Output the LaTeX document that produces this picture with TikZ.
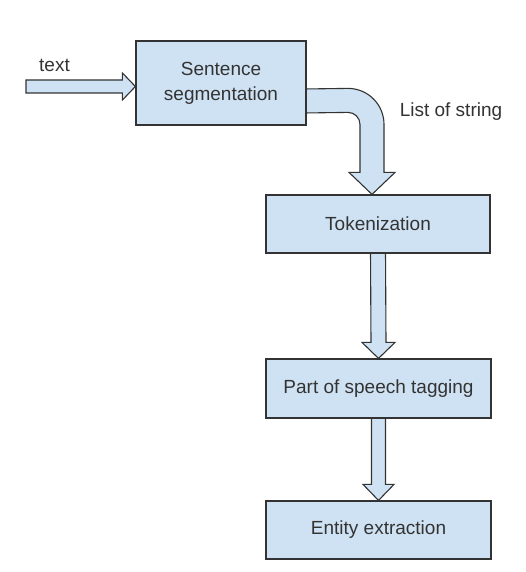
\documentclass[tikz,border=0pt]{standalone}
\usepackage{fontspec}
\setmainfont{Liberation Sans}
\usetikzlibrary{calc,backgrounds}
\definecolor{boxfill}{HTML}{CFE2F3}
\definecolor{ink}{HTML}{333333}
\begin{document}
\begin{tikzpicture}[x=1pt,y=1pt,
  procbox/.style={draw=ink, line width=1.2pt, fill=boxfill, text=ink, inner sep=0pt,
    font=\fontsize{19}{25}\selectfont, align=center},
  lbl/.style={text=ink, inner sep=0pt, font=\fontsize{19}{23}\selectfont},
  barrow/.style={draw=ink, line width=1.1pt, fill=boxfill, line join=miter}]
\useasboundingbox (0,0) rectangle (526,572);

\node[procbox, minimum width=170pt, minimum height=84pt] (seg) at (221,489) {Sentence\\segmentation};
\node[procbox, minimum width=224pt, minimum height=58pt] (tok) at (378,348) {Tokenization};
\node[procbox, minimum width=225pt, minimum height=59pt] (pos) at (378.5,183.5) {Part of speech tagging};
\node[procbox, minimum width=225pt, minimum height=58pt] (ent) at (378.5,42) {Entity extraction};

\node[lbl] (txt) at (54.5,507) {text};
\node[lbl] (los) at (451,460) {List of string};

\coordinate (txtstart) at (26,485.5);
\coordinate (txttip) at (seg.west |- txtstart);
\coordinate (segout) at (seg.east |- 0,471);
\coordinate (toktip) at ($(tok.north)+(-6,0)$);

\begin{scope}[on background layer]
\fill[white] (0,0) rectangle (526,572);
% text -> Sentence segmentation
\draw[barrow] ($(txtstart)+(0,6.5)$) -- ($(txttip)+(-13,6.5)$) -- ($(txttip)+(-13,13.5)$)
  -- (txttip) -- ($(txttip)+(-13,-13.5)$) -- ($(txttip)+(-13,-6.5)$)
  -- ($(txtstart)+(0,-6.5)$) -- cycle;
% Sentence segmentation -> Tokenization (curved)
\draw[barrow] ($(segout)+(-2,12)$) -- ($(toktip)+(-24,106)$) arc[start angle=90,end angle=0,radius=36]
  -- ($(toktip)+(12,22)$) -- ($(toktip)+(23,22)$) -- (toktip) -- ($(toktip)+(-23,22)$)
  -- ($(toktip)+(-12,22)$) -- ($(toktip)+(-12,70)$) arc[start angle=0,end angle=90,radius=12]
  -- ($(segout)+(-2,-12)$) -- cycle;
% Tokenization -> Part of speech tagging
\draw[barrow] ($(tok.south)+(-7.5,2)$) -- ($(pos.north)+(-7.5,16)$) -- ($(pos.north)+(-16.5,16)$)
  -- (pos.north) -- ($(pos.north)+(16.5,16)$) -- ($(pos.north)+(7.5,16)$)
  -- ($(tok.south)+(7.5,2)$) -- cycle;
% Part of speech tagging -> Entity extraction
\draw[barrow] ($(pos.south)+(-7,2)$) -- ($(ent.north)+(-7,16)$) -- ($(ent.north)+(-15.5,16)$)
  -- (ent.north) -- ($(ent.north)+(15.5,16)$) -- ($(ent.north)+(7,16)$)
  -- ($(pos.south)+(7,2)$) -- cycle;
\end{scope}
\end{tikzpicture}
\end{document}
